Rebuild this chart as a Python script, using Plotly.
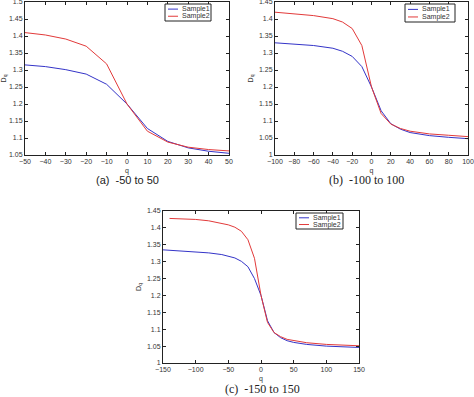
import plotly.graph_objects as go

# Panel (a): -50 to 50
qa = [-50, -40, -30, -20, -10, 0, 10, 20, 30, 40, 50]
a_s1 = [1.315, 1.310, 1.301, 1.288, 1.258, 1.200, 1.128, 1.090, 1.071, 1.061, 1.055]
a_s2 = [1.410, 1.403, 1.391, 1.370, 1.318, 1.200, 1.120, 1.088, 1.073, 1.066, 1.062]

# Panel (b): -100 to 100
qb = [-100, -80, -60, -40, -30, -20, -10, 0, 10, 20, 30, 40, 60, 80, 100]
b_s1 = [1.330, 1.327, 1.322, 1.314, 1.305, 1.290, 1.260, 1.200, 1.130, 1.092, 1.076, 1.066, 1.057, 1.052, 1.048]
b_s2 = [1.420, 1.416, 1.410, 1.401, 1.391, 1.372, 1.322, 1.200, 1.122, 1.091, 1.078, 1.070, 1.062, 1.058, 1.054]

# Panel (c): -150 to 150
qc1 = [-150, -120, -100, -80, -60, -50, -40, -30, -20, -10, 0, 10, 20, 30, 40, 50, 70, 100, 130, 150]
c_s1 = [1.335, 1.332, 1.330, 1.326, 1.321, 1.317, 1.311, 1.301, 1.285, 1.250, 1.200, 1.125, 1.090, 1.075, 1.066, 1.061, 1.055, 1.050, 1.047, 1.046]
qc2 = [-140, -120, -100, -80, -60, -50, -40, -30, -20, -10, 0, 10, 20, 30, 40, 50, 70, 100, 130, 150]
c_s2 = [1.428, 1.427, 1.425, 1.421, 1.414, 1.409, 1.402, 1.390, 1.365, 1.310, 1.200, 1.120, 1.090, 1.078, 1.070, 1.066, 1.060, 1.055, 1.052, 1.051]

captions = ["(a)  -50 to 50", "(b)  -100 to 100", "(c)  -150 to 150"]
names = ["Sample1", "Sample2"]

BLUE = "#3434c8"
RED = "#e23a3a"
W, H = 474, 397


def px(x):
    return x / W


def py(y):
    return 1 - y / H


fig = go.Figure()

panels = [
    dict(x=qa, s1=a_s1, x2=qa, s2=a_s2, ax="",
         box=(25, 229, 2, 155),
         xr=[-50, 50], xt=list(range(-50, 51, 10)),
         yr=[1.05, 1.5], yt=[1.05, 1.1, 1.15, 1.2, 1.25, 1.3, 1.35, 1.4, 1.45, 1.5],
         leg=(165, 211, 4, 21)),
    dict(x=qb, s1=b_s1, x2=qb, s2=b_s2, ax="2",
         box=(275, 468, 2, 155),
         xr=[-100, 100], xt=list(range(-100, 101, 20)),
         yr=[1.0, 1.45], yt=[1.0, 1.05, 1.1, 1.15, 1.2, 1.25, 1.3, 1.35, 1.4, 1.45],
         leg=(405, 455, 4, 22)),
    dict(x=qc1, s1=c_s1, x2=qc2, s2=c_s2, ax="3",
         box=(163, 359, 211, 363),
         xr=[-150, 150], xt=list(range(-150, 151, 50)),
         yr=[1.0, 1.45], yt=[1.0, 1.05, 1.1, 1.15, 1.2, 1.25, 1.3, 1.35, 1.4, 1.45],
         leg=(296, 343, 213, 229)),
]

tickfont = dict(family="Liberation Sans, Arial", size=7, color="#333333")
layout = {}
shapes = []
annotations = []
for p in panels:
    ax = p["ax"]
    x0, x1, y0, y1 = p["box"]
    fig.add_trace(go.Scatter(x=p["x"], y=p["s1"], mode="lines", name=names[0],
                             line=dict(color=BLUE, width=1), xaxis="x" + ax, yaxis="y" + ax,
                             showlegend=False))
    fig.add_trace(go.Scatter(x=p["x2"], y=p["s2"], mode="lines", name=names[1],
                             line=dict(color=RED, width=1), xaxis="x" + ax, yaxis="y" + ax,
                             showlegend=False))
    layout["xaxis" + ax] = dict(domain=[px(x0), px(x1)], range=p["xr"], tickvals=p["xt"],
                                anchor="y" + ax, showline=True, mirror="ticks",
                                linecolor="#222", linewidth=1, ticks="inside", ticklen=3,
                                tickcolor="#222", showgrid=False, zeroline=False,
                                tickfont=tickfont, automargin=False, ticklabeloverflow="allow",
                                title=dict(text="q", font=tickfont, standoff=3))
    layout["yaxis" + ax] = dict(domain=[py(y1), py(y0)], range=p["yr"], tickvals=p["yt"],
                                anchor="x" + ax, showline=True, mirror="ticks",
                                linecolor="#222", linewidth=1, ticks="inside", ticklen=3,
                                tickcolor="#222", showgrid=False, zeroline=False,
                                tickfont=tickfont, automargin=False, ticklabeloverflow="allow",
                                title=dict(text="D<sub>q</sub>", font=tickfont, standoff=4))
    # legend box drawn manually (compact, MATLAB-like)
    lx0, lx1, ly0, ly1 = p["leg"]
    shapes.append(dict(type="rect", xref="paper", yref="paper",
                       x0=px(lx0), x1=px(lx1), y0=py(ly1), y1=py(ly0),
                       line=dict(color="#222", width=1), fillcolor="white", layer="above"))
    rows = [ly0 + (ly1 - ly0) * 0.3, ly0 + (ly1 - ly0) * 0.72]
    for name, col, ry in zip(names, [BLUE, RED], rows):
        shapes.append(dict(type="line", xref="paper", yref="paper",
                           x0=px(lx0 + 3), x1=px(lx0 + 13), y0=py(ry), y1=py(ry),
                           line=dict(color=col, width=1), layer="above"))
        annotations.append(dict(text=name, x=px(lx0 + 15), y=py(ry), xref="paper", yref="paper",
                                xanchor="left", yanchor="middle", showarrow=False,
                                font=dict(family="Liberation Sans, Arial", size=7, color="#333")))

fig.update_layout(**layout)

annotations += [
    dict(text=captions[0], x=px(127), y=py(180), xref="paper", yref="paper",
         xanchor="center", yanchor="middle", showarrow=False,
         font=dict(family="Liberation Sans, Arial", size=11, color="#222")),
    dict(text=captions[1], x=px(366), y=py(180), xref="paper", yref="paper",
         xanchor="center", yanchor="middle", showarrow=False,
         font=dict(family="Liberation Serif, Times New Roman", size=12, color="#222")),
    dict(text=captions[2], x=px(262), y=py(389), xref="paper", yref="paper",
         xanchor="center", yanchor="middle", showarrow=False,
         font=dict(family="Liberation Serif, Times New Roman", size=12, color="#222")),
]

fig.update_layout(
    width=W, height=H, margin=dict(l=0, r=0, t=0, b=0, autoexpand=False),
    paper_bgcolor="white", plot_bgcolor="white",
    shapes=shapes, annotations=annotations,
)

fig.write_html("out.html", config={"displayModeBar": False},
               post_script="document.body.style.margin='0';document.body.style.overflow='hidden';")
